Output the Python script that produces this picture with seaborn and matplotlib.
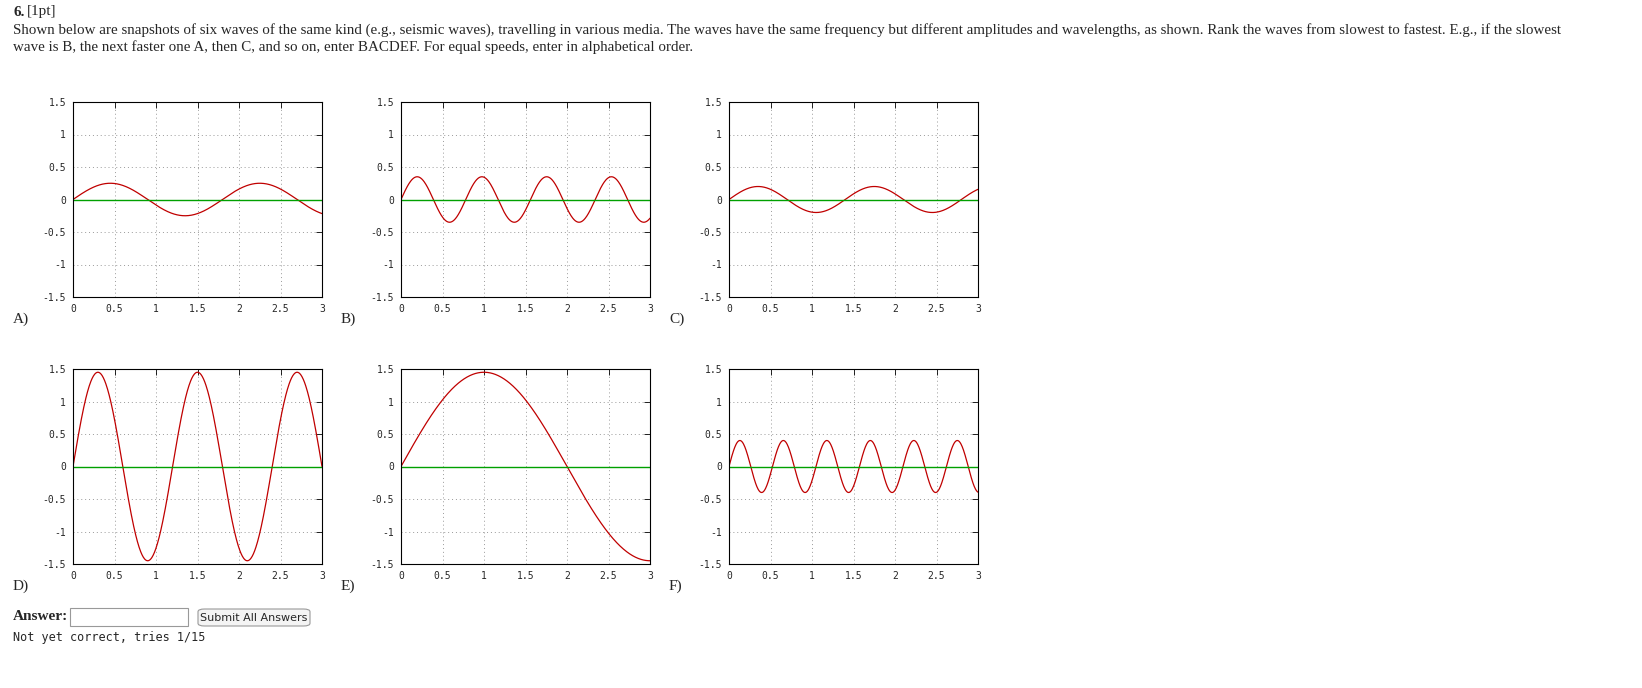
import numpy as np
import matplotlib
matplotlib.use("Agg")
import matplotlib.pyplot as plt
import seaborn as sns
from matplotlib.patches import Rectangle, FancyBboxPatch

sns.set_theme(style="white")

labels = ["A)", "B)", "C)", "D)", "E)", "F)"]
amplitudes = [0.25, 0.35, 0.2, 1.45, 1.45, 0.4]
wavelengths = [1.8, 0.78, 1.4, 1.2, 4.0, 0.524]
xticks = [0, 0.5, 1, 1.5, 2, 2.5, 3]
yticks = [-1.5, -1, -0.5, 0, 0.5, 1, 1.5]
ytick_labels = ["-1.5", "-1", "-0.5", "0", "0.5", "1", "1.5"]
xtick_labels = ["0", "0.5", "1", "1.5", "2", "2.5", "3"]

W, H = 1642, 688
fig = plt.figure(figsize=(W/100, H/100), dpi=100)
serif = "Liberation Serif"
mono = "DejaVu Sans Mono"

fig.text(13/W, 1-12/H, "6.", fontsize=11, fontweight="bold", family=serif, va="center")
fig.text(27/W, 1-12/H, "[1pt]", fontsize=11, family=serif, va="center")
lines = ["Shown below are snapshots of six waves of the same kind (e.g., seismic waves), travelling in various media. The waves have the same frequency but different amplitudes and wavelengths, as shown. Rank the waves from slowest to fastest. E.g., if the slowest",
         "wave is B, the next faster one A, then C, and so on, enter BACDEF. For equal speeds, enter in alphabetical order."]
for i, t in enumerate(lines):
    fig.text(13/W, 1-(30+17*i)/H, t, fontsize=10.8, family=serif, va="center")

lefts = [73, 401, 729]
tops = [102, 369]
aw, ah = 249, 195
x = np.linspace(0, 3, 600)
for i in range(6):
    r, c = divmod(i, 3)
    ax = fig.add_axes([lefts[c]/W, 1-(tops[r]+ah)/H, aw/W, ah/H])
    y = amplitudes[i]*np.sin(2*np.pi*x/wavelengths[i])
    sns.lineplot(x=x, y=y, ax=ax, color="#c00000", lw=0.9)
    ax.axhline(0, color="#00a000", lw=1)
    ax.set_xlim(0, 3); ax.set_ylim(-1.5, 1.5)
    ax.set_xticks(xticks); ax.set_xticklabels(xtick_labels, family=mono, fontsize=7)
    ax.set_yticks(yticks); ax.set_yticklabels(ytick_labels, family=mono, fontsize=7)
    ax.tick_params(direction="in", top=True, right=True, length=4, width=0.6, pad=5, color="black")
    ax.grid(True, color="#999999", ls=(0, (1, 3)), lw=0.7)
    for s in ax.spines.values():
        s.set_color("black"); s.set_linewidth(0.8)
    ax.set_ylabel(""); ax.set_xlabel("")
    fig.text((lefts[c]-60)/W, 1-(tops[r]+ah+22)/H, labels[i], fontsize=11, family=serif, va="center")

fig.text(13/W, 1-617/H, "Answer:", fontsize=11, fontweight="bold", family=serif, va="center")
fig.patches.append(Rectangle((70/W, 1-626/H), 118/W, 18/H, transform=fig.transFigure,
                             fill=False, ec="#999999", lw=0.8))
fig.patches.append(FancyBboxPatch((198/W, 1-626/H), 112/W, 17/H, transform=fig.transFigure,
                                  boxstyle="round,pad=0,rounding_size=0.004", fc="#f4f4f4", ec="#999999", lw=0.8))
fig.text(254/W, 1-618/H, "Submit All Answers", fontsize=8, family="DejaVu Sans", ha="center", va="center")
fig.text(13/W, 1-637/H, "Not yet correct, tries 1/15", fontsize=8.5, family=mono, va="center")

fig.savefig("out.png", dpi=100, facecolor="white")
